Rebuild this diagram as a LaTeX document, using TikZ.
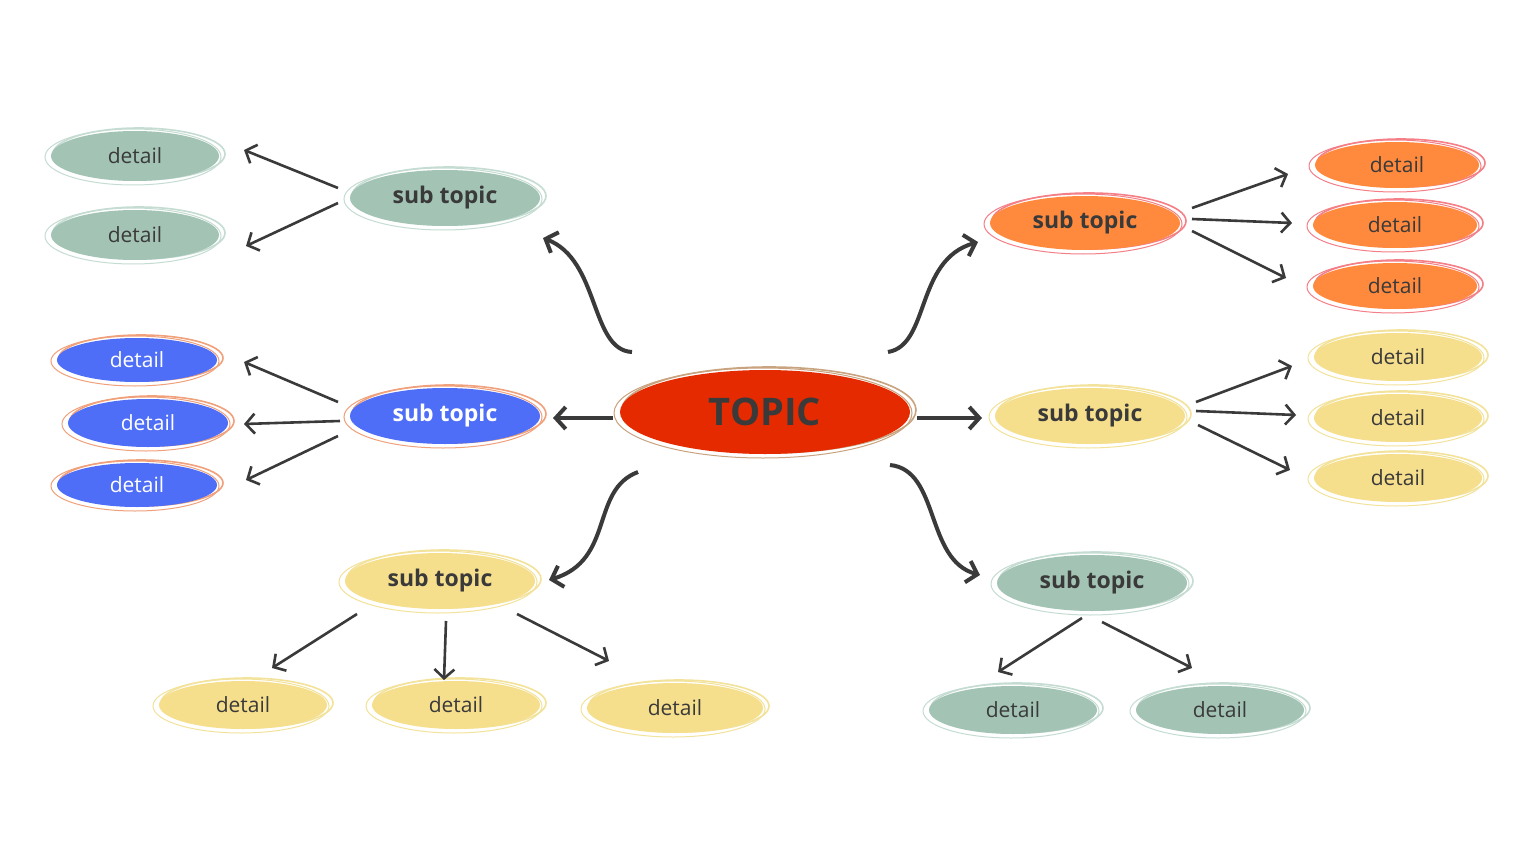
\documentclass[tikz,border=0pt]{standalone}
\usepackage{fontspec}
\setmainfont{Open Sans}
\usetikzlibrary{shapes.geometric,arrows.meta}
\definecolor{sage}{HTML}{A3C4B5}
\definecolor{sageL}{HTML}{C5DCD2}
\definecolor{org}{HTML}{FF8A3D}
\definecolor{orgL}{HTML}{F47F86}
\definecolor{blu}{HTML}{4F6EF7}
\definecolor{bluL}{HTML}{F0A07A}
\definecolor{yel}{HTML}{F6DF8C}
\definecolor{yelL}{HTML}{F3E29A}
\definecolor{tred}{HTML}{E62A00}
\definecolor{tredL}{HTML}{C9A27E}
\definecolor{ink}{HTML}{3A3A3A}
\tikzset{
 arr/.style={draw=ink,line width=2.6pt,-{Straight Barb[length=9pt,width=20pt,line width=2.6pt]}},
 marr/.style={draw=ink,line width=4pt,-{Straight Barb[length=10pt,width=22pt,line width=4pt]}},
 dtext/.style={font=\fontsize{21}{21}\selectfont,text=ink},
 stext/.style={font=\fontsize{23}{23}\selectfont\bfseries,text=ink},
}
\newcommand{\blob}[9]{%
 \draw[#7,line width=1.6pt] (#2+4,#3-2) ellipse ({#4+2} and {#5+1});
 \node[ellipse,fill=#6,minimum width={2*#4},minimum height={2*#5},inner sep=0pt,#9] (#1) at (#2,#3) {#8};
 \draw[#7,line width=1pt] (#2-2,#3+1) ellipse ({#4+4} and {#5+3});
}
\begin{document}
\begin{tikzpicture}[x=1pt,y=-1pt]
\useasboundingbox[fill=white] (0,0) rectangle (1536,864);
% topic
\blob{T}{765}{412}{145}{42}{tred}{tredL}{TOPIC}{font=\fontsize{38}{38}\selectfont\bfseries,text=ink}
% sub topics
\blob{S1}{445}{198}{95}{28}{sage}{sageL}{sub topic}{stext}
\blob{S2}{1085}{223}{95}{27}{org}{orgL}{sub topic}{stext}
\blob{S3}{445}{416}{95}{28}{blu}{bluL}{sub topic}{stext,text=white}
\blob{S4}{1090}{416}{95}{28}{yel}{yelL}{sub topic}{stext}
\blob{S5}{440}{581}{95}{28}{yel}{yelL}{sub topic}{stext}
\blob{S6}{1092}{583}{95}{28}{sage}{sageL}{sub topic}{stext}
% details
\blob{a1}{135}{156}{84}{25}{sage}{sageL}{detail}{dtext}
\blob{a2}{135}{235}{84}{25}{sage}{sageL}{detail}{dtext}
\blob{b1}{137}{360}{80}{22}{blu}{bluL}{detail}{dtext,text=white}
\blob{b2}{148}{423}{80}{24}{blu}{bluL}{detail}{dtext,text=white}
\blob{b3}{137}{485}{80}{22}{blu}{bluL}{detail}{dtext,text=white}
\blob{c1}{1397}{165}{82}{23}{org}{orgL}{detail}{dtext}
\blob{c2}{1395}{225}{82}{23}{org}{orgL}{detail}{dtext}
\blob{c3}{1395}{286}{82}{23}{org}{orgL}{detail}{dtext}
\blob{d1}{1398}{357}{84}{24}{yel}{yelL}{detail}{dtext}
\blob{d2}{1398}{418}{84}{24}{yel}{yelL}{detail}{dtext}
\blob{d3}{1398}{478}{84}{24}{yel}{yelL}{detail}{dtext}
\blob{e1}{243}{705}{84}{24}{yel}{yelL}{detail}{dtext}
\blob{e2}{456}{705}{84}{24}{yel}{yelL}{detail}{dtext}
\blob{e3}{675}{708}{88}{25}{yel}{yelL}{detail}{dtext}
\blob{f1}{1013}{710}{84}{24}{sage}{sageL}{detail}{dtext}
\blob{f2}{1220}{710}{84}{24}{sage}{sageL}{detail}{dtext}
% main arrows
\draw[marr] (632,352) .. controls (590,350) and (600,260) .. (543,238);
\draw[marr] (888,352) .. controls (930,345) and (915,260) .. (978,242);
\draw[marr] (613,418) -- (553,418);
\draw[marr] (917,418) -- (982,418);
\draw[marr] (638,472) .. controls (590,490) and (615,560) .. (549,580);
\draw[marr] (890,465) .. controls (940,470) and (925,560) .. (980,575);
% detail arrows
\draw[arr] (338,188) -- (244,150);
\draw[arr] (338,203) -- (246,246);
\draw[arr] (338,402) -- (244,362);
\draw[arr] (340,421) -- (244,424);
\draw[arr] (338,436) -- (246,480);
\draw[arr] (1192,208) -- (1288,174);
\draw[arr] (1192,219) -- (1292,223);
\draw[arr] (1192,231) -- (1286,278);
\draw[arr] (1196,402) -- (1292,366);
\draw[arr] (1196,411) -- (1296,415);
\draw[arr] (1198,425) -- (1290,470);
\draw[arr] (357,614) -- (272,668);
\draw[arr] (446,621) -- (444,680);
\draw[arr] (517,614) -- (609,661);
\draw[arr] (1082,618) -- (998,672);
\draw[arr] (1102,622) -- (1192,668);
\end{tikzpicture}
\end{document}
